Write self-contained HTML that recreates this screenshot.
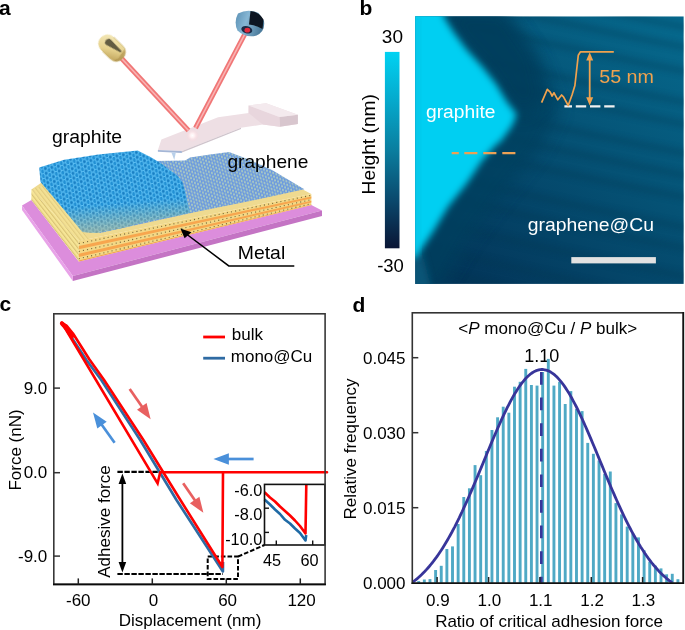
<!DOCTYPE html><html><head><meta charset="utf-8"><style>html,body{margin:0;padding:0;background:#fff;overflow:hidden}svg{display:block}text{font-family:"Liberation Sans",Arial,sans-serif}</style></head><body><svg width="685" height="630" viewBox="0 0 685 630"><defs><pattern id="hexb" width="6.6" height="3.81" patternUnits="userSpaceOnUse" patternTransform="rotate(-10) scale(1,1.25)"><rect width="6.6" height="3.81" fill="#2290D4"/><path d="M0,1.905 L1.1,0 L3.3,0 L4.4,1.905 L3.3,3.81 L1.1,3.81 Z M4.4,1.905 L6.6,1.905" stroke="#5EC0F4" stroke-width="0.95" fill="none"/><circle cx="2.2" cy="1.9" r="0.9" fill="#1A7CC0"/></pattern><pattern id="hexg" width="5.4" height="3.12" patternUnits="userSpaceOnUse" patternTransform="rotate(-14) scale(1,1.2)"><rect width="5.4" height="3.12" fill="#A6C6C4"/><path d="M0,1.56 L0.9,0 L2.7,0 L3.6,1.56 L2.7,3.12 L0.9,3.12 Z M3.6,1.56 L5.4,1.56" stroke="#5C8EE6" stroke-width="0.95" fill="none"/></pattern><pattern id="metl" width="3.4" height="3.4" patternUnits="userSpaceOnUse" patternTransform="rotate(52)"><rect width="3.4" height="3.4" fill="#F6E596"/><rect y="2.3" width="3.4" height="1.1" fill="#D8C274"/></pattern><linearGradient id="gfade" x1="0" y1="0" x2="0.15" y2="1"><stop offset="0.7" stop-color="#E9CF85" stop-opacity="0"/><stop offset="1" stop-color="#E9C880" stop-opacity="0.45"/></linearGradient><linearGradient id="gold" x1="0" y1="0" x2="1" y2="1"><stop offset="0" stop-color="#F6ECC0"/><stop offset="0.55" stop-color="#E6D28E"/><stop offset="1" stop-color="#B89A50"/></linearGradient><linearGradient id="det" x1="0" y1="0" x2="1" y2="0.3"><stop offset="0" stop-color="#5A90B4"/><stop offset="0.45" stop-color="#86B6D4"/><stop offset="1" stop-color="#4C7C9C"/></linearGradient><radialGradient id="spot"><stop offset="0" stop-color="#FFFFFF"/><stop offset="0.35" stop-color="#FFF0F2" stop-opacity="0.95"/><stop offset="1" stop-color="#F8D0D8" stop-opacity="0"/></radialGradient><filter id="sb" x="-10%" y="-10%" width="120%" height="120%"><feGaussianBlur stdDeviation="0.6"/></filter><filter id="sb2" x="-10%" y="-10%" width="120%" height="120%"><feGaussianBlur stdDeviation="0.35"/></filter></defs>
<polygon points="22.0,205.5 72.8,276.0 322.0,210.5 311.3,205.0 78.8,261.5 31.4,200.0" fill="#DC8DDC"/>
<polygon points="72.8,276.0 322.0,210.5 322.0,216.0 72.8,281.0" fill="#C474C4"/>
<polygon points="22.0,205.5 72.8,276.0 72.8,281.0 22.0,210.0" fill="#E8A2E8"/>
<polygon points="31.4,189.5 78.8,241.0 311.3,194.0 300.0,188.0 200.0,165.0 60.0,170.0" fill="#EFDA90"/>
<polygon points="31.4,189.5 78.8,241.0 90.0,240.0 45.0,185.0" fill="url(#metl)" opacity="0.6"/>
<polygon points="31.4,189.5 78.8,241.0 78.8,261.5 31.4,200.0" fill="url(#metl)"/>
<polygon points="78.8,241.0 311.3,194.0 311.3,205.0 78.8,261.5" fill="#F3D886"/>
<polygon points="78.8,245.9 311.3,196.6 311.3,198.4 78.8,249.2" fill="#F7A64E"/>
<polygon points="78.8,253.7 311.3,200.8 311.3,202.6 78.8,257.0" fill="#F7A64E"/>
<polygon points="78.8,260.5 311.3,204.4 311.3,205.0 78.8,261.5" fill="#F2A050"/>
<line x1="78.8" y1="243.5" x2="311.3" y2="195.3" stroke="#7A6A3A" stroke-width="1.1" stroke-dasharray="1.1 3.1"/>
<line x1="78.8" y1="251.5" x2="311.3" y2="199.6" stroke="#7A6A3A" stroke-width="1.1" stroke-dasharray="1.1 3.1"/>
<line x1="78.8" y1="258.8" x2="311.3" y2="203.6" stroke="#7A6A3A" stroke-width="1.1" stroke-dasharray="1.1 3.1"/>
<polygon points="140.0,155.0 153.5,161.0 185.0,160.5 190.0,157.5 210.0,154.5 229.0,152.0 250.0,160.0 272.0,170.0 304.4,189.2 250.0,201.0 198.0,211.5 150.0,222.0 100.0,233.0 60.0,205.0" fill="url(#hexg)"/>
<polygon points="39.2,167.6 64.2,159.7 98.3,154.5 137.7,150.5 151.0,157.2 162.0,163.9 169.0,169.4 176.7,175.0 182.2,181.7 184.6,189.4 187.0,200.6 190.0,212.5 175.0,216.0 145.6,221.5 122.0,228.0 95.7,233.0 82.5,232.0 60.0,205.0 40.5,182.0" fill="url(#hexb)"/>
<polygon points="39.2,167.6 64.2,159.7 98.3,154.5 137.7,150.5 151.0,157.2 162.0,163.9 169.0,169.4 176.7,175.0 182.2,181.7 184.6,189.4 187.0,200.6 190.0,212.5 175.0,216.0 145.6,221.5 122.0,228.0 95.7,233.0 82.5,232.0 60.0,205.0 40.5,182.0" fill="url(#gfade)"/>
<polygon points="161.4,139.4 218.1,117.2 248.6,113.1 248.6,105.4 266.1,103.2 297.9,114.7 297.9,124 279.8,126.8 262.8,124.6 241,127.8 181.9,151.1 157.9,149.9" fill="#EEDFE4"/>
<polygon points="279.3,116.9 297.9,114.7 297.9,124 279.8,126.8" fill="#D8C6CE"/>
<polygon points="248.6,105.4 279.3,116.9 279.8,126.8 262.8,124.6 248.6,113.1" fill="#E8D6DD"/>
<polygon points="248.6,105.4 266.1,103.2 297.9,114.7 279.3,116.9" fill="#F4EAEE"/>
<polygon points="157.9,149.9 181.9,151.1 181.9,153 157.9,151.8" fill="#A4B6D6"/>
<polygon points="181.9,151.1 241,127.8 241,129 182,152.6" fill="#CFC4CC"/>
<polygon points="171.4,152.4 175.8,152.4 174.3,160" fill="#B8D0EA"/>
<line x1="120.3" y1="57" x2="188.5" y2="130.5" stroke="#F07676" stroke-width="5" filter="url(#sb2)"/>
<line x1="120.3" y1="57" x2="188.5" y2="130.5" stroke="#F9B4B4" stroke-width="1.6" filter="url(#sb2)"/>
<line x1="246.4" y1="31.2" x2="195.5" y2="128" stroke="#F07676" stroke-width="5" filter="url(#sb2)"/>
<line x1="246.4" y1="31.2" x2="195.5" y2="128" stroke="#F9B4B4" stroke-width="1.6" filter="url(#sb2)"/>
<circle cx="192.4" cy="135.5" r="6.5" fill="url(#spot)"/>
<g transform="translate(111.8,47.8) rotate(44)" filter="url(#sb2)"><rect x="-15" y="-9" width="30" height="18" rx="8.5" fill="url(#gold)"/><path d="M-6,-9 L6,-9 Q15,-9 15,0 Q15,9 6,9 L-4,9" fill="none" stroke="#C8B068" stroke-width="1.2" opacity="0.6"/><path d="M-9.5,-1.6 Q-9.5,-5.2 -6,-5.2 L9,-4.6 Q10.8,-3.6 9,-2.4 L-6,1.8 Q-9.5,1.8 -9.5,-1.6 Z" fill="#4E4A36" opacity="0.88"/><path d="M10,-8 Q15,-6 15,0 Q15,6 10,8.5 L12,3 Z" fill="#A88C48" opacity="0.6"/></g>
<g filter="url(#sb2)"><path d="M238,13.5 Q248,8.5 258.5,13 L264,21 Q265.5,32 256,35.8 Q245,38 237.5,30.5 Q233.5,22 238,13.5 Z" fill="url(#det)"/><path d="M250.5,11 Q259.5,12 263.5,19.5 L262.5,29 Q256,25 249,24.5 Z" fill="#101820"/><ellipse cx="246.8" cy="29.8" rx="5.6" ry="3.6" fill="#1C2C46" transform="rotate(15 246.8 29.8)"/><ellipse cx="247.3" cy="30.2" rx="2.8" ry="2.4" fill="#E22C3C"/></g>
<text x="-1" y="14.7" font-size="21" font-weight="bold">a</text>
<text transform="translate(52,142.6) scale(1.043,1)" font-size="18.6">graphite</text>
<text transform="translate(227.4,167.6) scale(1.03,1)" font-size="18.6">graphene</text>
<text transform="translate(237.8,258.9) scale(1.065,1)" font-size="18.2">Metal</text>
<polyline points="294.3,265.9 228.8,265.9 185,233" fill="none" stroke="#000" stroke-width="1.5"/>
<polygon points="180.4,228.5 191.5,232.2 184.6,238.2" fill="#000"/>
<text x="547.8" y="334.4" font-size="17" text-anchor="middle">&lt;<tspan font-style="italic">P</tspan> mono@Cu / <tspan font-style="italic">P</tspan> bulk&gt;</text>
<text x="541.8" y="362.2" font-size="18" text-anchor="middle">1.10</text>
<rect x="417.25" y="581.1" width="2.9" height="1.9" fill="#4FA9C5"/>
<rect x="422.88" y="579.5" width="2.9" height="3.5" fill="#4FA9C5"/>
<rect x="428.52" y="579.1" width="2.9" height="3.9" fill="#4FA9C5"/>
<rect x="434.16" y="570.0" width="2.9" height="13.0" fill="#4FA9C5"/>
<rect x="439.79" y="565.8" width="2.9" height="17.2" fill="#4FA9C5"/>
<rect x="445.43" y="549.0" width="2.9" height="34.0" fill="#4FA9C5"/>
<rect x="451.06" y="546.4" width="2.9" height="36.6" fill="#4FA9C5"/>
<rect x="456.69" y="524.0" width="2.9" height="59.0" fill="#4FA9C5"/>
<rect x="462.33" y="497.0" width="2.9" height="86.0" fill="#4FA9C5"/>
<rect x="467.96" y="488.3" width="2.9" height="94.7" fill="#4FA9C5"/>
<rect x="473.60" y="465.1" width="2.9" height="117.9" fill="#4FA9C5"/>
<rect x="479.24" y="475.2" width="2.9" height="107.8" fill="#4FA9C5"/>
<rect x="484.87" y="451.0" width="2.9" height="132.0" fill="#4FA9C5"/>
<rect x="490.50" y="430.0" width="2.9" height="153.0" fill="#4FA9C5"/>
<rect x="496.14" y="417.3" width="2.9" height="165.7" fill="#4FA9C5"/>
<rect x="501.77" y="406.7" width="2.9" height="176.3" fill="#4FA9C5"/>
<rect x="507.41" y="412.7" width="2.9" height="170.3" fill="#4FA9C5"/>
<rect x="513.04" y="386.7" width="2.9" height="196.3" fill="#4FA9C5"/>
<rect x="518.68" y="381.8" width="2.9" height="201.2" fill="#4FA9C5"/>
<rect x="524.31" y="368.9" width="2.9" height="214.1" fill="#4FA9C5"/>
<rect x="529.95" y="385.0" width="2.9" height="198.0" fill="#4FA9C5"/>
<rect x="535.58" y="385.6" width="2.9" height="197.4" fill="#4FA9C5"/>
<rect x="541.22" y="372.0" width="2.9" height="211.0" fill="#4FA9C5"/>
<rect x="546.85" y="358.9" width="2.9" height="224.1" fill="#4FA9C5"/>
<rect x="552.49" y="385.6" width="2.9" height="197.4" fill="#4FA9C5"/>
<rect x="558.12" y="381.8" width="2.9" height="201.2" fill="#4FA9C5"/>
<rect x="563.76" y="404.0" width="2.9" height="179.0" fill="#4FA9C5"/>
<rect x="569.39" y="391.1" width="2.9" height="191.9" fill="#4FA9C5"/>
<rect x="575.03" y="409.0" width="2.9" height="174.0" fill="#4FA9C5"/>
<rect x="580.66" y="411.1" width="2.9" height="171.9" fill="#4FA9C5"/>
<rect x="586.30" y="442.9" width="2.9" height="140.1" fill="#4FA9C5"/>
<rect x="591.93" y="453.8" width="2.9" height="129.2" fill="#4FA9C5"/>
<rect x="597.57" y="460.5" width="2.9" height="122.5" fill="#4FA9C5"/>
<rect x="603.20" y="474.0" width="2.9" height="109.0" fill="#4FA9C5"/>
<rect x="608.84" y="471.5" width="2.9" height="111.5" fill="#4FA9C5"/>
<rect x="614.47" y="503.1" width="2.9" height="79.9" fill="#4FA9C5"/>
<rect x="620.11" y="514.4" width="2.9" height="68.6" fill="#4FA9C5"/>
<rect x="625.74" y="526.6" width="2.9" height="56.4" fill="#4FA9C5"/>
<rect x="631.38" y="533.3" width="2.9" height="49.7" fill="#4FA9C5"/>
<rect x="637.01" y="537.4" width="2.9" height="45.6" fill="#4FA9C5"/>
<rect x="642.65" y="550.3" width="2.9" height="32.7" fill="#4FA9C5"/>
<rect x="648.28" y="561.7" width="2.9" height="21.3" fill="#4FA9C5"/>
<rect x="653.92" y="565.7" width="2.9" height="17.3" fill="#4FA9C5"/>
<rect x="659.55" y="568.4" width="2.9" height="14.6" fill="#4FA9C5"/>
<rect x="665.19" y="574.3" width="2.9" height="8.7" fill="#4FA9C5"/>
<rect x="670.82" y="573.8" width="2.9" height="9.2" fill="#4FA9C5"/>
<rect x="676.46" y="579.2" width="2.9" height="3.8" fill="#4FA9C5"/>
<polyline points="412.7,582.2 414.2,581.0 415.7,579.8 417.2,578.6 418.7,577.3 420.2,575.9 421.7,574.5 423.2,573.0 424.7,571.5 426.2,569.9 427.7,568.2 429.2,566.5 430.7,564.7 432.2,562.8 433.7,560.9 435.2,558.9 436.7,556.9 438.2,554.7 439.7,552.5 441.2,550.3 442.7,547.9 444.2,545.5 445.7,543.0 447.2,540.5 448.7,537.9 450.2,535.2 451.7,532.5 453.2,529.6 454.7,526.8 456.2,523.8 457.7,520.8 459.2,517.8 460.7,514.6 462.2,511.5 463.7,508.2 465.2,504.9 466.7,501.6 468.2,498.2 469.7,494.8 471.2,491.4 472.7,487.9 474.2,484.3 475.7,480.8 477.2,477.2 478.7,473.6 480.2,470.0 481.7,466.4 483.2,462.7 484.7,459.1 486.2,455.5 487.7,451.8 489.2,448.2 490.7,444.6 492.2,441.0 493.7,437.5 495.2,434.0 496.7,430.5 498.2,427.1 499.7,423.7 501.2,420.4 502.7,417.1 504.2,413.9 505.7,410.8 507.2,407.7 508.7,404.8 510.2,401.9 511.7,399.1 513.2,396.4 514.7,393.8 516.2,391.4 517.7,389.0 519.2,386.8 520.7,384.6 522.2,382.6 523.7,380.8 525.2,379.0 526.7,377.4 528.2,376.0 529.7,374.7 531.2,373.5 532.7,372.5 534.2,371.6 535.7,370.9 537.2,370.3 538.7,369.9 540.2,369.6 541.7,369.5 543.2,369.5 544.7,369.8 546.2,370.1 547.7,370.6 549.2,371.3 550.7,372.1 552.2,373.1 553.7,374.2 555.2,375.4 556.7,376.8 558.2,378.4 559.7,380.1 561.2,381.9 562.7,383.8 564.2,385.9 565.7,388.1 567.2,390.4 568.7,392.8 570.2,395.4 571.7,398.0 573.2,400.8 574.7,403.6 576.2,406.5 577.7,409.5 579.2,412.6 580.7,415.8 582.2,419.0 583.7,422.3 585.2,425.7 586.7,429.1 588.2,432.6 589.7,436.1 591.2,439.6 592.7,443.2 594.2,446.8 595.7,450.4 597.2,454.0 598.7,457.6 600.2,461.3 601.7,464.9 603.2,468.5 604.7,472.2 606.2,475.8 607.7,479.4 609.2,482.9 610.7,486.5 612.2,490.0 613.7,493.4 615.2,496.9 616.7,500.3 618.2,503.6 619.7,506.9 621.2,510.2 622.7,513.4 624.2,516.5 625.7,519.6 627.2,522.6 628.7,525.6 630.2,528.5 631.7,531.3 633.2,534.1 634.7,536.8 636.2,539.5 637.7,542.0 639.2,544.5 640.7,547.0 642.2,549.3 643.7,551.6 645.2,553.9 646.7,556.0 648.2,558.1 649.7,560.1 651.2,562.1 652.7,564.0 654.2,565.8 655.7,567.5 657.2,569.2 658.7,570.9 660.2,572.4 661.7,573.9 663.2,575.4 664.7,576.7 666.2,578.1 667.7,579.3 669.2,580.6 670.7,581.7 672.2,582.8" fill="none" stroke="#38359A" stroke-width="2.8" stroke-linejoin="round"/>
<line x1="541.3" y1="372" x2="541.3" y2="583" stroke="#38359A" stroke-width="2.6" stroke-dasharray="12.7 12.9"/>
<rect x="412.3" y="312.8" width="271" height="270.4" fill="none" stroke="#333" stroke-width="1.6"/>
<path d="M411.5,583.2 H683.3 V312" fill="none" stroke="#111" stroke-width="1.6"/>
<line x1="412.3" y1="357.7" x2="418.3" y2="357.7" stroke="#333" stroke-width="1.5"/>
<text x="405.5" y="363.7" font-size="17" text-anchor="end">0.045</text>
<line x1="412.3" y1="432.7" x2="418.3" y2="432.7" stroke="#333" stroke-width="1.5"/>
<text x="405.5" y="438.7" font-size="17" text-anchor="end">0.030</text>
<line x1="412.3" y1="507.7" x2="418.3" y2="507.7" stroke="#333" stroke-width="1.5"/>
<text x="405.5" y="513.7" font-size="17" text-anchor="end">0.015</text>
<text x="405.5" y="588.7" font-size="17" text-anchor="end">0.000</text>
<line x1="437.1" y1="583" x2="437.1" y2="577" stroke="#222" stroke-width="1.5"/>
<text x="437.90000000000003" y="605.5" font-size="17" text-anchor="middle">0.9</text>
<line x1="488.6" y1="583" x2="488.6" y2="577" stroke="#222" stroke-width="1.5"/>
<text x="489.40000000000003" y="605.5" font-size="17" text-anchor="middle">1.0</text>
<line x1="539.9" y1="583" x2="539.9" y2="577" stroke="#222" stroke-width="1.5"/>
<text x="540.6999999999999" y="605.5" font-size="17" text-anchor="middle">1.1</text>
<line x1="591.3" y1="583" x2="591.3" y2="577" stroke="#222" stroke-width="1.5"/>
<text x="592.0999999999999" y="605.5" font-size="17" text-anchor="middle">1.2</text>
<line x1="642.6" y1="583" x2="642.6" y2="577" stroke="#222" stroke-width="1.5"/>
<text x="643.4" y="605.5" font-size="17" text-anchor="middle">1.3</text>
<text x="549" y="627.4" font-size="17" text-anchor="middle">Ratio of critical adhesion force</text>
<text transform="translate(356.3,449) rotate(-90)" font-size="17" text-anchor="middle">Relative frequency</text>
<text x="352.5" y="311.7" font-size="21" font-weight="bold">d</text>
<line x1="117.4" y1="471.9" x2="160" y2="471.9" stroke="#000" stroke-width="2.1" stroke-dasharray="5.4 1.6"/>
<line x1="117.4" y1="574" x2="223" y2="574" stroke="#000" stroke-width="2.1" stroke-dasharray="5.4 1.6"/>
<path d="M207.7,556.6 H238 V579 H207.7 Z" fill="none" stroke="#000" stroke-width="2" stroke-dasharray="4.6 2"/>
<line x1="238" y1="556.6" x2="264.5" y2="545" stroke="#000" stroke-width="2" stroke-dasharray="4.6 2"/>
<line x1="122.4" y1="482" x2="122.4" y2="564" stroke="#000" stroke-width="1.8"/>
<polygon points="122.4,473.5 118.6,484 126.2,484" fill="#000"/>
<polygon points="122.4,572.6 118.6,562 126.2,562" fill="#000"/>
<text transform="translate(109.6,521.5) rotate(-90)" font-size="17" text-anchor="middle">Adhesive force</text>
<polyline points="63,324.5 86.4,360 101.3,380 140.2,440 176.5,500 222.9,571.4 223,562" fill="none" stroke="#2F6BA3" stroke-width="2.7" stroke-linejoin="round"/>
<polyline points="62,323 157.6,483.3 160.2,472.3 327,472.3" fill="none" stroke="#FF0000" stroke-width="2.6" stroke-linejoin="miter" stroke-linecap="round"/>
<polyline points="61.5,322.6 66.5,325.5 73,333.5 89.3,359.3 104.1,380 143.4,440 163.1,472 180.4,500 222.4,567 223,472.3" fill="none" stroke="#FF0000" stroke-width="2.6" stroke-linejoin="round" stroke-linecap="round"/>
<polyline points="62,323.5 67.5,329.5 72,336.5" fill="none" stroke="#FF0000" stroke-width="4.2" stroke-linecap="round" stroke-linejoin="round"/>
<line x1="129.7" y1="388.9" x2="142.4" y2="407.3" stroke="#E86060" stroke-width="2.7"/><polygon points="150.6,419.2 137.0,409.7 146.6,403.1" fill="#E86060"/>
<line x1="183.2" y1="483.3" x2="195.2" y2="500.8" stroke="#E86060" stroke-width="2.7"/><polygon points="203.4,512.8 189.9,503.3 199.4,496.7" fill="#E86060"/>
<line x1="114.6" y1="442.8" x2="101.4" y2="424.3" stroke="#4A90DA" stroke-width="2.7"/><polygon points="93,412.5 106.7,421.8 97.3,428.5" fill="#4A90DA"/>
<line x1="253.6" y1="459" x2="227.9" y2="459.0" stroke="#4A90DA" stroke-width="2.7"/><polygon points="213.4,459 228.9,453.2 228.9,464.8" fill="#4A90DA"/>
<line x1="203.2" y1="337" x2="225" y2="337" stroke="#FF0000" stroke-width="2.8"/>
<line x1="203.2" y1="358.2" x2="225" y2="358.2" stroke="#2F6BA3" stroke-width="2.8"/>
<text x="231.8" y="340.3" font-size="17">bulk</text>
<text x="230.8" y="361.8" font-size="17">mono@Cu</text>
<rect x="264.5" y="484.4" width="60.4" height="60.6" fill="#fff"/>
<polyline points="264.5,499.5 270,504.5 275,509.5 280,514 285,519.8 290,523.5 295,528.5 300,533 305.5,540.5 306.2,535" fill="none" stroke="#1F6AA5" stroke-width="2.6" stroke-linejoin="round"/>
<polyline points="264.5,492.3 270,497.5 275,501.5 280,506.5 285,511 290,515.5 295,520.5 300,526 305.5,533.5 306.3,484.4" fill="none" stroke="#FF0000" stroke-width="2.6" stroke-linejoin="round"/>
<rect x="264.5" y="484.4" width="60.4" height="60.6" fill="none" stroke="#111" stroke-width="1.6"/>
<line x1="264.5" y1="508.2" x2="269" y2="508.2" stroke="#111" stroke-width="1.4"/>
<line x1="264.5" y1="532.4" x2="269" y2="532.4" stroke="#111" stroke-width="1.4"/>
<line x1="276.3" y1="545" x2="276.3" y2="540.5" stroke="#111" stroke-width="1.4"/>
<line x1="312.7" y1="545" x2="312.7" y2="540.5" stroke="#111" stroke-width="1.4"/>
<text x="262.3" y="495.8" font-size="16.3" text-anchor="end">-6.0</text>
<text x="262.3" y="520.2" font-size="16.3" text-anchor="end">-8.0</text>
<text x="262.3" y="544.6" font-size="16.3" text-anchor="end">-10.0</text>
<text x="272" y="566" font-size="16.3" text-anchor="middle">45</text>
<text x="309.6" y="566" font-size="16.3" text-anchor="middle">60</text>
<rect x="53.8" y="313.8" width="271.3" height="270.6" fill="none" stroke="#383838" stroke-width="1.6"/>
<line x1="53" y1="584.4" x2="325.9" y2="584.4" stroke="#0a0a0a" stroke-width="1.6"/>
<line x1="53.8" y1="388.09999999999997" x2="60" y2="388.09999999999997" stroke="#333" stroke-width="1.5"/>
<text x="47.3" y="393.7" font-size="17" text-anchor="end">9.0</text>
<line x1="53.8" y1="472.7" x2="60" y2="472.7" stroke="#333" stroke-width="1.5"/>
<text x="47.3" y="478.3" font-size="17" text-anchor="end">0.0</text>
<line x1="53.8" y1="556.1" x2="60" y2="556.1" stroke="#333" stroke-width="1.5"/>
<text x="47.3" y="561.7" font-size="17" text-anchor="end">-9.0</text>
<line x1="78.3" y1="584.4" x2="78.3" y2="578.4" stroke="#222" stroke-width="1.5"/>
<text x="78.3" y="606.3" font-size="17" text-anchor="middle">-60</text>
<line x1="152.3" y1="584.4" x2="152.3" y2="578.4" stroke="#222" stroke-width="1.5"/>
<text x="153.60000000000002" y="606.3" font-size="17" text-anchor="middle">0</text>
<line x1="226.3" y1="584.4" x2="226.3" y2="578.4" stroke="#222" stroke-width="1.5"/>
<text x="227.60000000000002" y="606.3" font-size="17" text-anchor="middle">60</text>
<line x1="300.3" y1="584.4" x2="300.3" y2="578.4" stroke="#222" stroke-width="1.5"/>
<text x="301.6" y="606.3" font-size="17" text-anchor="middle">120</text>
<text x="190" y="626" font-size="17" text-anchor="middle">Displacement (nm)</text>
<text transform="translate(21.3,450) rotate(-90)" font-size="17" text-anchor="middle">Force (nN)</text>
<text x="-0.5" y="311.3" font-size="21" font-weight="bold">c</text>
<defs><linearGradient id="cb" x1="0" y1="0" x2="0" y2="1"><stop offset="0" stop-color="#00D2F2"/><stop offset="0.25" stop-color="#05A9CC"/><stop offset="0.5" stop-color="#0A7E9F"/><stop offset="0.75" stop-color="#0A4A6E"/><stop offset="1" stop-color="#0A1535"/></linearGradient><linearGradient id="bg" x1="0" y1="0" x2="0.3" y2="1"><stop offset="0" stop-color="#0B6384"/><stop offset="0.5" stop-color="#0A5474"/><stop offset="1" stop-color="#094664"/></linearGradient><filter id="bl" x="-20%" y="-20%" width="140%" height="140%"><feGaussianBlur stdDeviation="3.5"/></filter><filter id="bl2" x="-20%" y="-20%" width="140%" height="140%"><feGaussianBlur stdDeviation="8"/></filter><clipPath id="afm"><rect x="415.2" y="16.3" width="268.6" height="267.6"/></clipPath></defs>
<rect x="384.9" y="51.9" width="14.6" height="196.4" fill="url(#cb)"/>
<text x="392.4" y="43.2" font-size="19" text-anchor="middle">30</text>
<text x="390.5" y="272" font-size="18.5" text-anchor="middle">-30</text>
<text transform="translate(375.3,144.2) rotate(-90) scale(1.035,1)" font-size="18.6" text-anchor="middle">Height (nm)</text>
<text x="359.5" y="14.8" font-size="21" font-weight="bold">b</text>
<defs><linearGradient id="bg2" gradientUnits="userSpaceOnUse" x1="660" y1="20" x2="470" y2="284"><stop offset="0" stop-color="#06688C"/><stop offset="0.45" stop-color="#055275"/><stop offset="1" stop-color="#03365A"/></linearGradient></defs>
<g clip-path="url(#afm)">
<rect x="415.2" y="16.3" width="268.6" height="267.6" fill="url(#bg2)"/>
<defs><filter id="bl3" x="-20%" y="-50%" width="140%" height="200%"><feGaussianBlur stdDeviation="3"/></filter></defs>
<path d="M430,-102.0 Q560,-70.0 700,-44.0" stroke="#02344F" stroke-width="6" fill="none" opacity="0.32" filter="url(#bl3)"/>
<path d="M430,-81.0 Q560,-49.0 700,-23.0" stroke="#02344F" stroke-width="6" fill="none" opacity="0.32" filter="url(#bl3)"/>
<path d="M430,-55.0 Q560,-23.0 700,3.0" stroke="#02344F" stroke-width="6" fill="none" opacity="0.32" filter="url(#bl3)"/>
<path d="M430,-28.0 Q560,4.0 700,30.0" stroke="#02344F" stroke-width="6" fill="none" opacity="0.32" filter="url(#bl3)"/>
<path d="M430,-8.0 Q560,24.0 700,50.0" stroke="#02344F" stroke-width="6" fill="none" opacity="0.32" filter="url(#bl3)"/>
<path d="M430,16.0 Q560,48.0 700,74.0" stroke="#02344F" stroke-width="6" fill="none" opacity="0.32" filter="url(#bl3)"/>
<path d="M430,47.0 Q560,79.0 700,105.0" stroke="#02344F" stroke-width="6" fill="none" opacity="0.32" filter="url(#bl3)"/>
<path d="M430,69.0 Q560,101.0 700,127.0" stroke="#02344F" stroke-width="6" fill="none" opacity="0.32" filter="url(#bl3)"/>
<path d="M430,98.0 Q560,130.0 700,156.0" stroke="#02344F" stroke-width="6" fill="none" opacity="0.32" filter="url(#bl3)"/>
<path d="M430,120.0 Q560,152.0 700,178.0" stroke="#02344F" stroke-width="6" fill="none" opacity="0.32" filter="url(#bl3)"/>
<path d="M430,142.0 Q560,174.0 700,200.0" stroke="#02344F" stroke-width="6" fill="none" opacity="0.32" filter="url(#bl3)"/>
<path d="M430,172.0 Q560,204.0 700,230.0" stroke="#02344F" stroke-width="6" fill="none" opacity="0.32" filter="url(#bl3)"/>
<path d="M430,193.0 Q560,225.0 700,251.0" stroke="#02344F" stroke-width="6" fill="none" opacity="0.32" filter="url(#bl3)"/>
<path d="M430,221.0 Q560,253.0 700,279.0" stroke="#02344F" stroke-width="6" fill="none" opacity="0.32" filter="url(#bl3)"/>
<path d="M430,248.0 Q560,280.0 700,306.0" stroke="#02344F" stroke-width="6" fill="none" opacity="0.32" filter="url(#bl3)"/>
<path d="M430,269.0 Q560,301.0 700,327.0" stroke="#02344F" stroke-width="6" fill="none" opacity="0.32" filter="url(#bl3)"/>
<path d="M430,295.0 Q560,327.0 700,353.0" stroke="#02344F" stroke-width="6" fill="none" opacity="0.32" filter="url(#bl3)"/>
<polygon points="430,5 500,5 540,60 560,110 540,150 500,200 470,240 440,290 400,290 400,5" fill="#03405F" opacity="0.75" filter="url(#bl2)"/>
<polygon points="446,10 505,10 535,55 545,100 522,118 506,101 496,84 482,66 466,49 453,31" fill="#033A58" opacity="0.55" filter="url(#bl2)"/>
<polygon points="410,258 422,252 432,290 410,290" fill="#0A5C7E" opacity="0.8" filter="url(#bl)"/>
<polygon points="405,5 443.5,5 443.5,16.2 453,31.5 466,49 482,66.5 496,84 506.5,101.6 516.7,114.4 512.2,125.6 501.1,141.1 495.7,145 481.4,161.4 467.1,182.9 448.1,206.7 433.8,230.5 419.5,251.9 413,258 405,258" fill="#00CFF2" filter="url(#bl)"/>
<rect x="412" y="16.3" width="8" height="240" fill="#10C0E0" opacity="0.5" filter="url(#bl)"/>
</g>
<text transform="translate(426,118.4) scale(1.035,1)" font-size="18.6" fill="#fff">graphite</text>
<text transform="translate(527.8,231.4) scale(1.03,1)" font-size="18.8" fill="#fff">graphene@Cu</text>
<rect x="571.3" y="257.1" width="84.6" height="6.3" fill="#E2E2E2"/>
<line x1="451.7" y1="153.1" x2="515.5" y2="153.1" stroke="#EBA155" stroke-width="2.4" stroke-dasharray="7.1 5.5 13.1 5.9 13.1 5.9 13.1"/>
<line x1="564.4" y1="106.4" x2="614.7" y2="106.4" stroke="#F0F0F0" stroke-width="2.2" stroke-dasharray="7.6 3.8 10.4 3.8 10.4 3.8 10.4"/>
<polyline points="541.6,102.6 547.3,89.3 550.2,92.2 552.1,96 554,92.8 557.8,99.8 561.6,95 563.5,96.9 568.2,105.5 572,95 574.9,85.5 576.8,68.5 578.3,55.2 580.5,51.8 613.8,51.8" fill="none" stroke="#F0A24E" stroke-width="1.7" stroke-linejoin="round"/>
<line x1="589.7" y1="58" x2="589.7" y2="100" stroke="#F0A24E" stroke-width="1.8"/>
<polygon points="589.7,52.3 586.2,60.5 593.2,60.5" fill="#F0A24E"/>
<polygon points="589.7,105.5 586.2,97.3 593.2,97.3" fill="#F0A24E"/>
<text transform="translate(599.2,82.7) scale(1.065,1)" font-size="18.5" fill="#F0A24E">55 nm</text></svg></body></html>
